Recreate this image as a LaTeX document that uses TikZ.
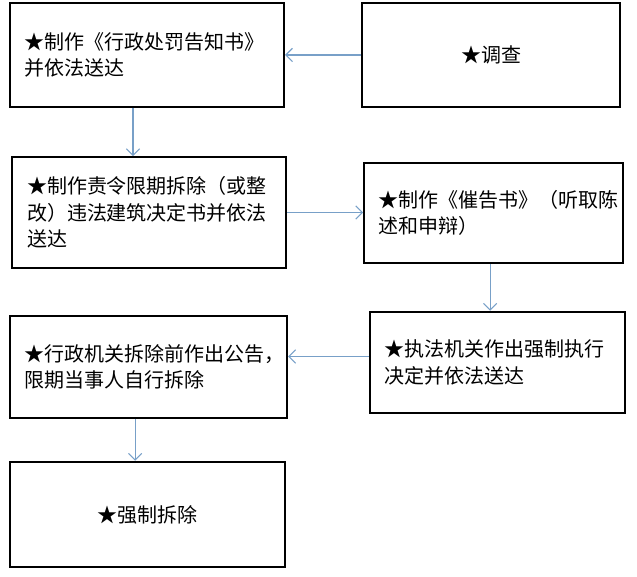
\documentclass[tikz,border=0pt]{standalone}
\usepackage{fontspec}
\newfontfamily\cjk{Noto Sans CJK SC}
\usetikzlibrary{arrows.meta}
\usepackage{xcolor}
\definecolor{arrowblue}{RGB}{120,160,200}

\tikzset{
 stepbox/.style={draw=black, line width=1.5pt, inner sep=0pt, font=\cjk\fontsize{15pt}{20pt}\selectfont},
 leftbox/.style={stepbox, align=left, text width=#1},
 arr/.style={arrowblue, line width=0.8pt, -{Straight Barb[length=5pt,width=10pt]}}
}

\begin{document}
\begin{tikzpicture}[x=0.75pt,y=-0.75pt]
\useasboundingbox (0,0) rectangle (637,577);
\node[leftbox=183pt, minimum width=205.5pt, minimum height=78pt] (notice) at (147,55) {★制作《行政处罚告知书》\\并依法送达};
\node[stepbox, minimum width=193.5pt, minimum height=78pt] (survey) at (491,55) {★调查};
\node[leftbox=183pt, minimum width=205.5pt, minimum height=83pt] (order) at (149,212.5) {★制作责令限期拆除（或整\\改）违法建筑决定书并依法\\送达};
\node[leftbox=172pt, minimum width=194pt, minimum height=75pt] (urge) at (493.5,213) {★制作《催告书》（听取陈\\述和申辩）};
\node[leftbox=170pt, minimum width=191pt, minimum height=76pt] (enforce) at (497.5,362.5) {★执法机关作出强制执行\\决定并依法送达};
\node[leftbox=186pt, minimum width=208pt, minimum height=76.5pt] (announce) at (148.5,367) {★行政机关拆除前作出公告，\\限期当事人自行拆除};
\node[stepbox, minimum width=206pt, minimum height=79pt] (demolish) at (147.5,514.5) {★强制拆除};

\draw[arr] (survey.west) -- (notice.east);
\draw[arr] ([xshift=-10.5pt]notice.south) -- ([xshift=-10.5pt]notice.south |- order.north);
\draw[arr] (order.east) -- (order.east -| urge.west);
\draw[arr] ([xshift=-2.5pt]urge.south) -- ([xshift=-2.5pt]urge.south |- enforce.north);
\draw[arr] ([yshift=4.5pt]enforce.west) -- ([yshift=4.5pt]enforce.west -| announce.east);
\draw[arr] ([xshift=-10pt]announce.south) -- ([xshift=-10pt]announce.south |- demolish.north);
\end{tikzpicture}
\end{document}
